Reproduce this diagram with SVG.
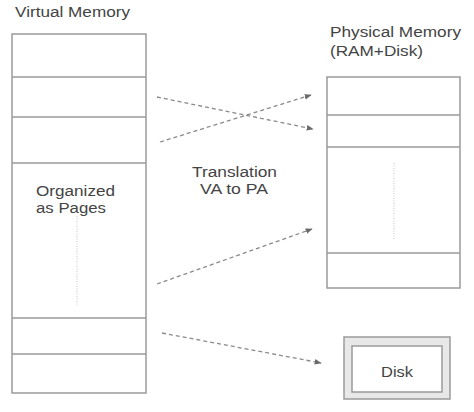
<svg xmlns="http://www.w3.org/2000/svg" width="474" height="412" viewBox="0 0 474 412">
<defs>
<style>
.box{fill:#fff;stroke:#9a9a9a;stroke-width:1.5}
.div{stroke:#9a9a9a;stroke-width:1.5}
.dot{stroke:#c4c4c4;stroke-width:1;stroke-dasharray:1,1.5}
.t{font-family:"Liberation Sans",Arial,sans-serif;font-size:15.5px;fill:#444}
.arr{stroke:#8a8a8a;stroke-width:1.3;stroke-dasharray:4,3;fill:none;marker-end:url(#ah)}
</style>
<marker id="ah" viewBox="0 0 10 10" refX="9" refY="5" markerWidth="7" markerHeight="7" markerUnits="userSpaceOnUse" orient="auto">
<path d="M0,1 L10,5 L0,9 z" fill="#6a6a6a"/>
</marker>
</defs>
<rect width="474" height="412" fill="#fff"/>
<g id="virtual-memory">
<text class="t" x="15" y="17" textLength="115" lengthAdjust="spacingAndGlyphs">Virtual Memory</text>
<rect class="box" x="12" y="34" width="134" height="359"/>
<line class="div" x1="12" y1="77" x2="146" y2="77"/>
<line class="div" x1="12" y1="117" x2="146" y2="117"/>
<line class="div" x1="12" y1="163" x2="146" y2="163"/>
<line class="div" x1="12" y1="318" x2="146" y2="318"/>
<line class="div" x1="12" y1="354" x2="146" y2="354"/>
<line class="dot" x1="77" y1="216" x2="77" y2="305"/>
<text class="t" x="36" y="196" textLength="79" lengthAdjust="spacingAndGlyphs">Organized</text>
<text class="t" x="36" y="213" textLength="70" lengthAdjust="spacingAndGlyphs">as Pages</text>
</g>
<g id="physical-memory">
<text class="t" x="330" y="37" textLength="131" lengthAdjust="spacingAndGlyphs">Physical Memory</text>
<text class="t" x="330" y="56" textLength="93" lengthAdjust="spacingAndGlyphs">(RAM+Disk)</text>
<rect class="box" x="327" y="77" width="133" height="211"/>
<line class="div" x1="327" y1="115" x2="460" y2="115"/>
<line class="div" x1="327" y1="147" x2="460" y2="147"/>
<line class="div" x1="327" y1="253" x2="460" y2="253"/>
<line class="dot" x1="394" y1="163" x2="394" y2="240"/>
</g>
<g id="disk">
<rect x="344" y="337" width="106" height="62" fill="#e8e8e8" stroke="#9a9a9a" stroke-width="1.5"/>
<rect x="352" y="346" width="90" height="46" fill="#fff" stroke="#9a9a9a" stroke-width="1.5"/>
<text class="t" x="381" y="377" textLength="32" lengthAdjust="spacingAndGlyphs">Disk</text>
</g>
<g id="translation-label">
<text class="t" x="192" y="177" textLength="85" lengthAdjust="spacingAndGlyphs">Translation</text>
<text class="t" x="200" y="194" textLength="68" lengthAdjust="spacingAndGlyphs">VA to PA</text>
</g>
<g id="connectors">
<line class="arr" x1="157" y1="97" x2="313" y2="129"/>
<line class="arr" x1="160" y1="142" x2="311" y2="95"/>
<line class="arr" x1="157" y1="284" x2="312" y2="229"/>
<line class="arr" x1="162" y1="333" x2="321" y2="363"/>
</g>
</svg>
